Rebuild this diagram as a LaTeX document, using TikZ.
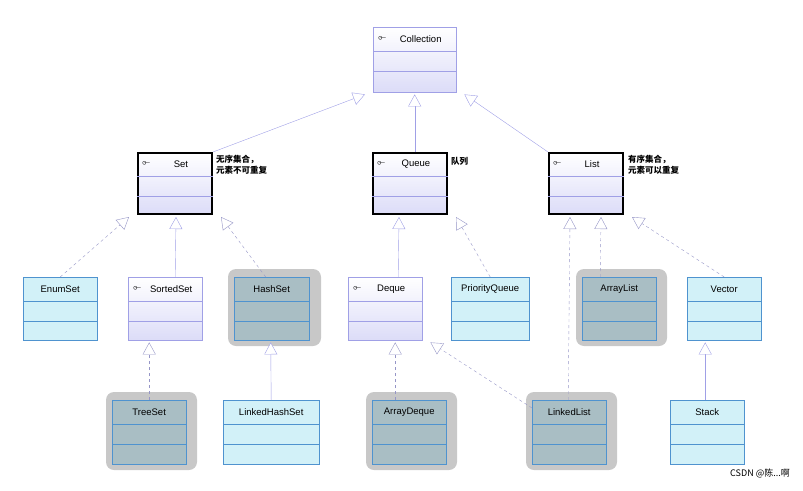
\documentclass[tikz,border=0pt]{standalone}
\usepackage{fontspec}
\setmainfont{Liberation Sans}
\newfontfamily\cjk{Noto Sans CJK SC}
\usetikzlibrary{arrows.meta,calc}
\definecolor{lavfill}{HTML}{DCDCF8}
\definecolor{lavline}{HTML}{A0A0E6}
\definecolor{tealfill}{HTML}{D2F1F8}
\definecolor{tealline}{HTML}{4F93CF}
\definecolor{grayfill}{HTML}{A9BEC4}
\definecolor{halo}{HTML}{C8C8C8}
\tikzset{
  box/.style={draw, rectangle, anchor=north west, inner sep=0pt},
  lav/.style={box, draw=lavline, top color=white, bottom color=lavfill},
  intf/.style={lav, draw=black, line width=2pt},
  teal/.style={box, draw=tealline, fill=tealfill},
  grayb/.style={box, draw=tealline, fill=grayfill},
  halo/.style={fill=halo, rounded corners=8pt},
  lbl/.style={font=\fontsize{9.5}{11}\selectfont, inner sep=0pt},
  gen/.style={draw=lavline, -{Triangle[open, length=12pt, width=13pt, fill=white]}},
  real/.style={gen, dashed, draw=lavline!70!gray},
  note/.style={font=\cjk\bfseries\fontsize{8.5}{11}\selectfont, align=left, anchor=north west, inner sep=0pt}
}
\newcommand\umlbox[8]{%
  \node[#2, minimum width=#5pt, minimum height=#6pt] (#1) at (#3,#4) {};
  \draw[draw=\ifx\relax#8\relax tealline\else lavline\fi]
    ($(#1.north west)+(0,24)$) -- ($(#1.north east)+(0,24)$)
    ($(#1.north west)+(0,44)$) -- ($(#1.north east)+(0,44)$);
  \ifx\relax#8\relax
    \node[lbl] at ($(#1.north)+(0,12)$) {#7};
  \else
    \node[lbl, anchor=west] at ($(#1.north west)+(5,11)$) {\fontsize{9}{10}\selectfont$\circ\!\!-$};
    \node[lbl] at ($(#1.north)+(6,12)$) {#7};
  \fi
}
\begin{document}
\begin{tikzpicture}[x=1pt,y=-1pt]
\useasboundingbox (0,0) rectangle (803,490);
\fill[halo] (228,269) rectangle (321,346);
\fill[halo] (576,269) rectangle (667,346);
\fill[halo] (106,392) rectangle (197,470);
\fill[halo] (366,392) rectangle (457,470);
\fill[halo] (526,392) rectangle (617,470);
\umlbox{coll}{lav}{373}{27}{83}{65}{Collection}{i}
\umlbox{set}{intf}{137}{152}{74}{61}{Set}{i}
\umlbox{queue}{intf}{372}{152}{74}{61}{Queue}{i}
\umlbox{list}{intf}{548}{152}{74}{61}{List}{i}
\umlbox{enum}{teal}{23}{277}{74}{63}{EnumSet}{}
\umlbox{sorted}{lav}{128}{277}{74}{63}{SortedSet}{i}
\umlbox{hash}{grayb}{234}{277}{75}{63}{HashSet}{}
\umlbox{deque}{lav}{348}{277}{74}{63}{Deque}{i}
\umlbox{pq}{teal}{451}{277}{78}{63}{PriorityQueue}{}
\umlbox{alist}{grayb}{582}{277}{74}{63}{ArrayList}{}
\umlbox{vector}{teal}{687}{277}{74}{63}{Vector}{}
\umlbox{tree}{grayb}{112}{400}{74}{64}{TreeSet}{}
\umlbox{lhs}{teal}{223}{400}{96}{64}{LinkedHashSet}{}
\umlbox{adeque}{grayb}{372}{400}{74}{64}{ArrayDeque}{}
\umlbox{llist}{grayb}{532}{400}{74}{64}{LinkedList}{}
\umlbox{stack}{teal}{670}{400}{74}{64}{Stack}{}
\node[note] (n1) at (216,155) {无序集合，\\元素不可重复};
\node[note] (n2) at (451,157) {队列};
\node[note] (n3) at (628,155) {有序集合，\\元素可以重复};
\draw[gen] (set.north east) -- ($(coll.south west)+(-8,2)$);
\draw[gen] (queue.north -| coll.south) -- ($(coll.south)+(0,2)$);
\draw[gen] (list.north west) -- ($(coll.south east)+(8,2)$);
\draw[real] (enum.north) -- ($(set.south west)+(-8,2)$);
\draw[gen] ($(sorted.north)+(10,0)$) -- ($(set.south)+(1,2)$);
\draw[real] ($(hash.north)+(-6,0)$) -- ($(set.south east)+(8,2)$);
\draw[gen] ($(deque.north)+(13,0)$) -- ($(queue.south)+(-11,2)$);
\draw[real] (pq.north) -- ($(queue.south east)+(8,2)$);
\draw[real] ($(llist.north)+(-1,0)$) -- ($(list.south west)+(22,2)$);
\draw[real] ($(alist.north)+(-19,0)$) -- ($(list.south)+(15,2)$);
\draw[real] (vector.north) -- ($(list.south east)+(8,2)$);
\draw[real] (tree.north) -- ($(sorted.south)+(-16,2)$);
\draw[gen] (lhs.north) -- ($(hash.south)+(-1,2)$);
\draw[real] ($(adeque.north)+(-14,0)$) -- ($(deque.south)+(10,2)$);
\draw[real] ($(llist.north west)+(0,8)$) -- ($(deque.south east)+(8,2)$);
\draw[gen] ($(stack.north)+(-2,0)$) -- ($(vector.south)+(-19,2)$);
\node[font=\cjk\fontsize{9}{10}\selectfont, anchor=east, inner sep=0pt] (wm) at (790,473) {CSDN @陈...啊};
\end{tikzpicture}
\end{document}
